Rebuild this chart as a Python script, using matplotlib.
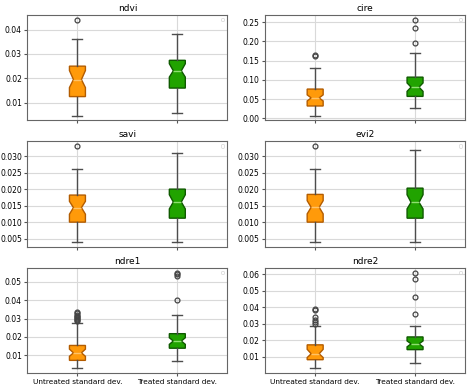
import matplotlib
matplotlib.use('Agg')
import matplotlib.pyplot as plt
from matplotlib.ticker import MultipleLocator
import warnings

warnings.filterwarnings('ignore')

indices = ['ndvi', 'cire', 'savi', 'evi2', 'ndre1', 'ndre2']
groups = ['Untreated standard dev.', 'Treated standard dev.']
tick_steps = [0.01, 0.05, 0.005, 0.005, 0.01, 0.01]

# whislo, q1, median, q3, whishi
untreated_box = [
    [0.0047, 0.0125, 0.0195, 0.0250, 0.0361],
    [0.0070, 0.0320, 0.0530, 0.0760, 0.1320],
    [0.0041, 0.0100, 0.0144, 0.0182, 0.0260],
    [0.0041, 0.0100, 0.0145, 0.0184, 0.0260],
    [0.0030, 0.0073, 0.0114, 0.0154, 0.0275],
    [0.0030, 0.0082, 0.0118, 0.0172, 0.0289],
]
treated_box = [
    [0.0056, 0.0160, 0.0231, 0.0274, 0.0380],
    [0.0280, 0.0570, 0.0810, 0.1070, 0.1710],
    [0.0040, 0.0112, 0.0161, 0.0200, 0.0310],
    [0.0040, 0.0112, 0.0160, 0.0203, 0.0320],
    [0.0072, 0.0139, 0.0178, 0.0218, 0.0320],
    [0.0060, 0.0143, 0.0178, 0.0220, 0.0289],
]
# notch (confidence interval of the median)
untreated_notch = [
    [0.0162, 0.0232],
    [0.0450, 0.0610],
    [0.0124, 0.0163],
    [0.0125, 0.0165],
    [0.0095, 0.0134],
    [0.0095, 0.0145],
]
treated_notch = [
    [0.0205, 0.0260],
    [0.0700, 0.0920],
    [0.0140, 0.0183],
    [0.0140, 0.0183],
    [0.0160, 0.0196],
    [0.0160, 0.0196],
]
untreated_fliers = [
    [0.0440],
    [0.1620, 0.1650],
    [0.0330],
    [0.0330],
    [0.0285, 0.0290, 0.0296, 0.0302, 0.0308, 0.0314, 0.0320, 0.0328, 0.0335],
    [0.0300, 0.0310, 0.0320, 0.0340, 0.0383, 0.0390],
]
treated_fliers = [
    [],
    [0.1970, 0.2340, 0.2560],
    [],
    [],
    [0.0400, 0.0530, 0.0540, 0.0550],
    [0.0360, 0.0460, 0.0570, 0.0610],
]

face_colors = ['#ff9a0a', '#21a300']
edge_colors = ['#b35c00', '#0f5a00']
median_colors = ['#ffc266', '#8fe070']

fig, axes = plt.subplots(3, 2, figsize=(4.74, 3.87), dpi=100)
fig.subplots_adjust(left=0.058, right=0.981, top=0.961, bottom=0.036,
                    wspace=0.19, hspace=0.2)

for i, ax in enumerate(axes.flat):
    stats = []
    for box, notch, fl, lab in [(untreated_box[i], untreated_notch[i], untreated_fliers[i], groups[0]),
                                (treated_box[i], treated_notch[i], treated_fliers[i], groups[1])]:
        stats.append(dict(whislo=box[0], q1=box[1], med=box[2], q3=box[3], whishi=box[4],
                          cilo=notch[0], cihi=notch[1], fliers=fl, label=lab))
    art = ax.bxp(stats, shownotches=True, patch_artist=True, widths=0.16, capwidths=0.1,
                 whiskerprops=dict(color='#4d4d4d', lw=1.0),
                 capprops=dict(color='#4d4d4d', lw=1.0),
                 flierprops=dict(marker='o', markersize=3.5, markerfacecolor='none',
                                 markeredgecolor='#444444', markeredgewidth=0.9),
                 medianprops=dict(lw=1.0))
    for j, patch in enumerate(art['boxes']):
        patch.set_facecolor(face_colors[j])
        patch.set_edgecolor(edge_colors[j])
        patch.set_linewidth(1.0)
        art['medians'][j].set_color(median_colors[j])

    ax.yaxis.set_major_locator(MultipleLocator(tick_steps[i]))
    ax.set_title(indices[i], fontsize=6.5, pad=3)
    ax.grid(True, color='#d9d9d9', lw=0.8)
    ax.set_axisbelow(True)
    ax.tick_params(labelsize=5.5, length=2.5, pad=1.5, color='#555555')
    for s in ax.spines.values():
        s.set_color('#666666')
        s.set_linewidth(0.8)
    if i < 4:
        ax.set_xticklabels([])
    else:
        ax.set_xticklabels(groups, fontsize=5.3, color='black')
    leg = ax.legend(handles=[], loc='upper right', fontsize=4, borderpad=0.3)
    leg.get_frame().set_linewidth(0.5)

fig.savefig('out.png', dpi=100)
